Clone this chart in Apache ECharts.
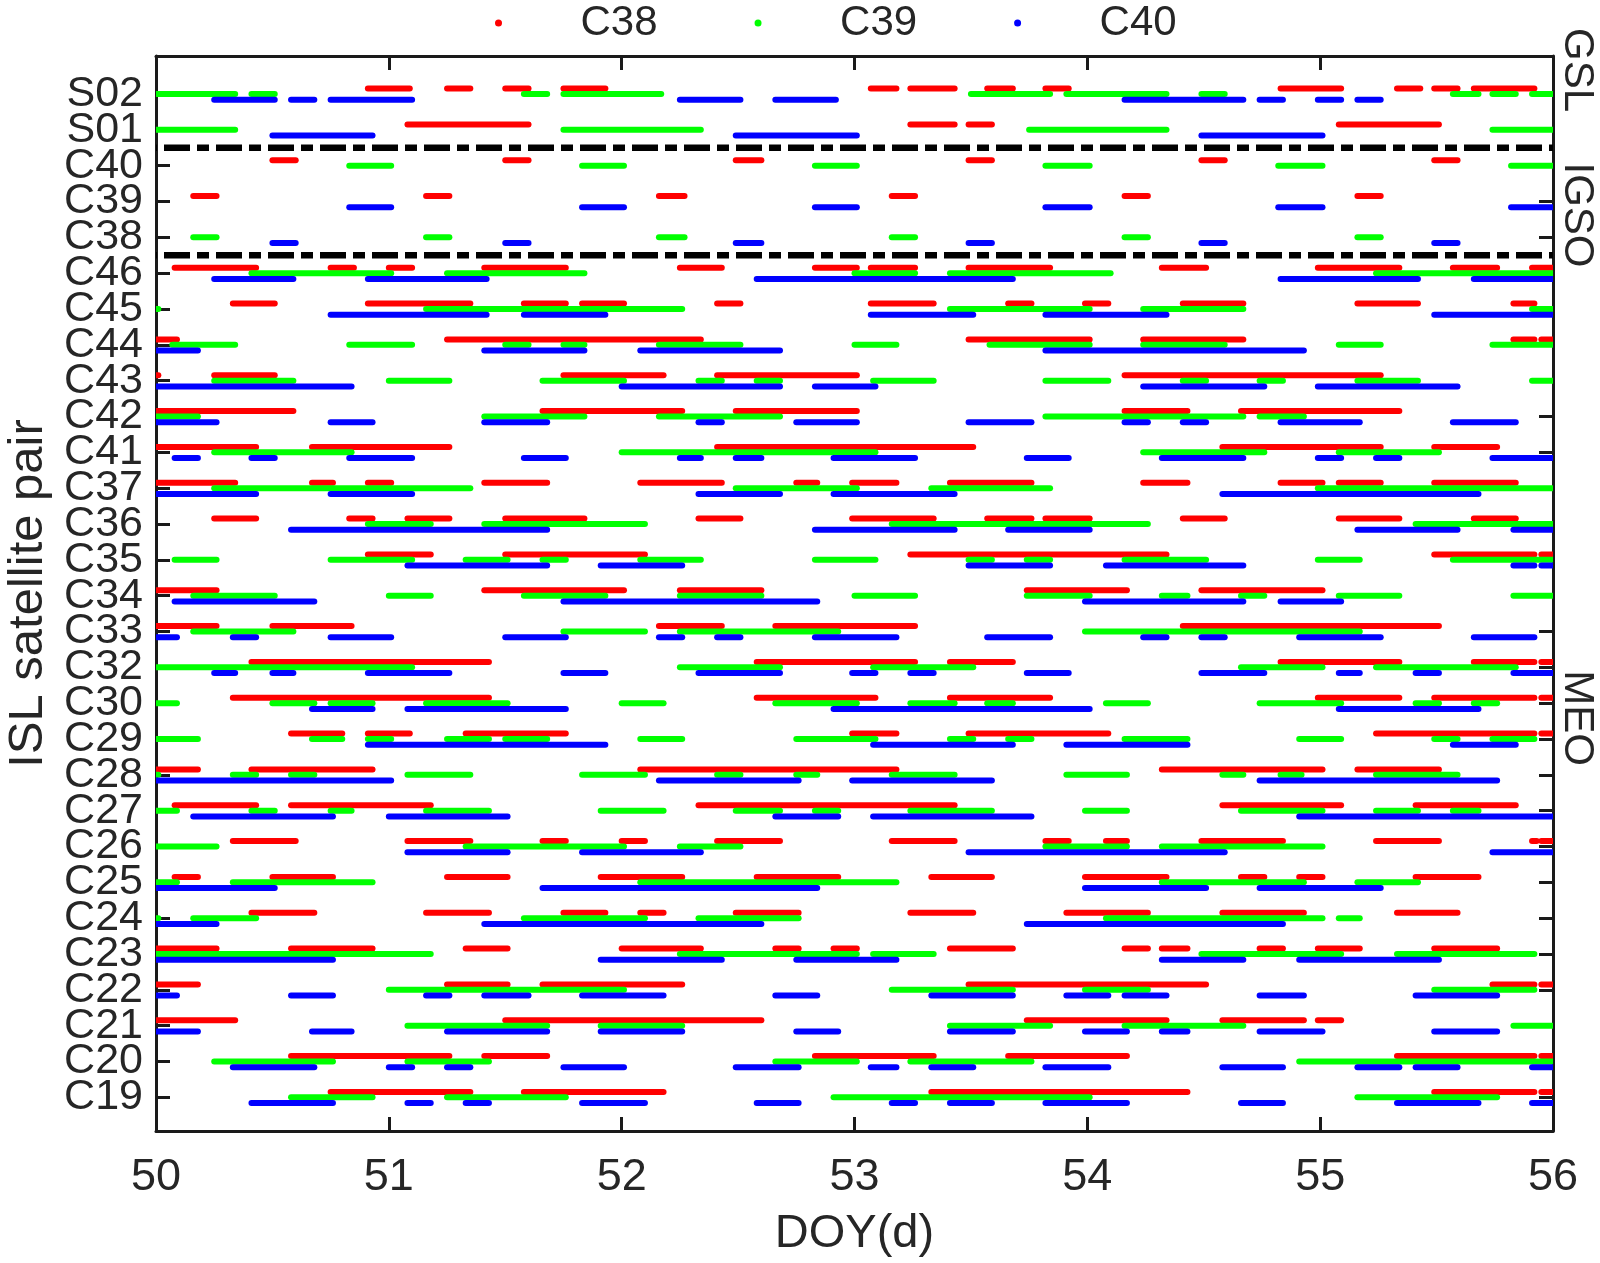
<!DOCTYPE html>
<html>
<head>
<meta charset="utf-8">
<title>ISL link windows</title>
<script src="https://cdn.jsdelivr.net/npm/echarts@6/dist/echarts.min.js"></script>
<style>
  html, body { margin: 0; padding: 0; background: #fff; }
  #chart { width: 1600px; height: 1263px; }
</style>
</head>
<body>
<div id="chart"></div>
<script>
// y rows, bottom to top
const pairs = ['C19', 'C20', 'C21', 'C22', 'C23', 'C24', 'C25', 'C26', 'C27', 'C28', 'C29', 'C30',
  'C32', 'C33', 'C34', 'C35', 'C36', 'C37', 'C41', 'C42', 'C43', 'C44', 'C45', 'C46',
  'C38', 'C39', 'C40', 'S01', 'S02'];
const xTicks = [50, 51, 52, 53, 54, 55, 56];
const yRange = [-0.94, 29.06];
const groupBorders = [23.5, 26.5];

// visible windows [start, end] in DOY, one list per row
const c38Windows = [
  /* C19 */ [[50.75, 51.35], [51.58, 52.18], [53.33, 54.43], [55.49, 55.92], [55.95, 56]],
  /* C20 */ [[50.58, 51.26], [51.41, 51.68], [52.83, 53.34], [53.66, 54.17], [55.33, 55.92], [55.95, 56]],
  /* C21 */ [[50, 50.34], [51.5, 52.6], [53.74, 54.34], [54.58, 54.93], [54.99, 55.09]],
  /* C22 */ [[50, 50.18], [51.25, 51.51], [51.66, 52.26], [53.49, 54.51], [55.74, 55.92], [55.95, 56]],
  /* C23 */ [[50, 50.26], [50.58, 50.93], [51.33, 51.51], [52.0, 52.34], [52.66, 52.76], [52.91, 53.01], [53.41, 53.68], [54.16, 54.26], [54.32, 54.43], [54.74, 54.84], [54.99, 55.17], [55.49, 55.76]],
  /* C24 */ [[50.41, 50.68], [51.16, 51.43], [51.75, 51.93], [52.08, 52.18], [52.49, 52.76], [53.24, 53.51], [53.91, 54.26], [54.58, 54.93], [55.33, 55.59]],
  /* C25 */ [[50.08, 50.18], [50.5, 50.76], [51.25, 51.51], [51.91, 52.26], [52.58, 52.93], [53.33, 53.59], [53.99, 54.34], [54.66, 54.76], [54.91, 55.01], [55.41, 55.68]],
  /* C26 */ [[50.33, 50.6], [51.08, 51.35], [51.66, 51.76], [52.0, 52.1], [52.41, 52.68], [53.16, 53.43], [53.82, 53.92], [54.08, 54.17], [54.49, 54.84], [55.24, 55.51], [55.91, 55.93], [55.95, 56]],
  /* C27 */ [[50.08, 50.43], [50.58, 51.18], [52.33, 53.43], [54.58, 55.09], [55.41, 55.84]],
  /* C28 */ [[50, 50.18], [50.41, 50.93], [52.08, 53.18], [54.32, 55.01], [55.16, 55.51]],
  /* C29 */ [[50.58, 50.8], [50.91, 51.09], [51.33, 51.76], [52.99, 53.18], [53.49, 54.09], [55.24, 55.92], [55.95, 56]],
  /* C30 */ [[50.33, 51.43], [52.58, 53.09], [53.41, 53.84], [54.99, 55.34], [55.49, 55.92], [55.95, 56]],
  /* C32 */ [[50.41, 51.43], [52.58, 53.26], [53.41, 53.68], [54.83, 55.34], [55.66, 55.92], [55.95, 56]],
  /* C33 */ [[50, 50.26], [50.5, 50.84], [52.16, 52.43], [52.66, 53.26], [54.41, 55.51]],
  /* C34 */ [[50, 50.26], [51.41, 52.01], [52.25, 52.6], [53.74, 54.17], [54.49, 55.01]],
  /* C35 */ [[50.91, 51.18], [51.5, 52.1], [53.24, 54.34], [55.49, 55.92], [55.95, 56]],
  /* C36 */ [[50.25, 50.43], [50.83, 50.93], [51.08, 51.26], [51.5, 51.84], [52.33, 52.51], [52.99, 53.34], [53.57, 53.76], [53.82, 54.01], [54.41, 54.59], [55.08, 55.34], [55.66, 55.84]],
  /* C37 */ [[50, 50.34], [50.67, 50.76], [50.91, 51.01], [51.41, 51.68], [52.08, 52.43], [52.75, 52.84], [52.99, 53.18], [53.41, 53.76], [54.24, 54.43], [54.83, 55.01], [55.08, 55.26], [55.49, 55.84]],
  /* C41 */ [[50, 50.43], [50.67, 51.26], [52.41, 53.51], [54.58, 55.26], [55.49, 55.76]],
  /* C42 */ [[50, 50.59], [51.66, 52.26], [52.49, 53.01], [54.16, 54.43], [54.66, 55.34]],
  /* C43 */ [[50, 50.01], [50.25, 50.51], [51.75, 52.18], [52.41, 53.01], [54.16, 55.26]],
  /* C44 */ [[50, 50.09], [51.25, 52.34], [53.49, 54.01], [54.24, 54.67], [55.83, 55.92], [55.95, 56]],
  /* C45 */ [[50.33, 50.51], [50.91, 51.35], [51.58, 51.76], [51.83, 52.01], [52.41, 52.51], [53.07, 53.34], [53.66, 53.76], [53.99, 54.09], [54.41, 54.67], [55.16, 55.42], [55.83, 55.92]],
  /* C46 */ [[50.08, 50.43], [50.75, 50.85], [51.0, 51.1], [51.41, 51.76], [52.25, 52.43], [52.83, 53.01], [53.07, 53.26], [53.49, 53.84], [54.32, 54.51], [54.99, 55.34], [55.57, 55.76], [55.91, 56]],
  /* C38 */ [],
  /* C39 */ [[50.16, 50.26], [51.16, 51.26], [52.16, 52.27], [53.16, 53.26], [54.16, 54.26], [55.16, 55.26]],
  /* C40 */ [[50.5, 50.6], [51.5, 51.6], [52.49, 52.6], [53.49, 53.59], [54.49, 54.59], [55.49, 55.59]],
  /* S01 */ [[51.08, 51.6], [53.24, 53.43], [53.49, 53.59], [55.08, 55.51]],
  /* S02 */ [[50.91, 51.09], [51.25, 51.35], [51.5, 51.6], [51.75, 51.93], [53.07, 53.18], [53.24, 53.43], [53.57, 53.68], [53.82, 53.92], [54.83, 55.09], [55.33, 55.43], [55.49, 55.59], [55.66, 55.92]]
];

const c39Windows = [
  /* C19 */ [[50.58, 50.93], [51.25, 51.76], [52.91, 54.01], [55.16, 55.76]],
  /* C20 */ [[50.25, 50.76], [51.08, 51.43], [52.66, 53.01], [53.24, 53.76], [54.91, 56]],
  /* C21 */ [[51.08, 51.68], [51.91, 52.26], [53.41, 53.84], [54.16, 54.67], [55.83, 56]],
  /* C22 */ [[51.0, 52.01], [53.16, 53.68], [53.99, 54.26], [55.49, 55.92]],
  /* C23 */ [[50, 51.18], [52.25, 53.01], [53.08, 53.34], [54.49, 55.09], [55.33, 55.92]],
  /* C24 */ [[50, 50.01], [50.16, 50.43], [51.58, 52.1], [52.33, 52.76], [54.08, 55.01], [55.08, 55.17]],
  /* C25 */ [[50, 50.09], [50.33, 50.93], [52.08, 53.18], [54.32, 54.93], [55.16, 55.42]],
  /* C26 */ [[50, 50.26], [51.33, 52.01], [52.25, 52.51], [53.82, 54.17], [54.32, 55.01]],
  /* C27 */ [[50, 50.09], [50.41, 50.51], [50.75, 50.84], [51.16, 51.43], [51.91, 52.18], [52.49, 52.68], [52.83, 52.93], [53.24, 53.59], [53.99, 54.17], [54.66, 55.01], [55.24, 55.42], [55.57, 55.68]],
  /* C28 */ [[50, 50.01], [50.33, 50.43], [50.58, 50.68], [51.08, 51.35], [51.83, 52.1], [52.41, 52.51], [52.75, 52.84], [53.16, 53.43], [53.91, 54.17], [54.58, 54.67], [54.83, 54.92], [55.24, 55.59]],
  /* C29 */ [[50, 50.18], [50.67, 50.8], [50.91, 51.01], [51.25, 51.43], [51.5, 51.68], [52.08, 52.26], [52.75, 53.09], [53.41, 53.51], [53.66, 53.76], [54.16, 54.43], [54.91, 55.09], [55.49, 55.59], [55.74, 55.92]],
  /* C30 */ [[50, 50.09], [50.5, 50.68], [50.75, 50.93], [51.16, 51.51], [52.0, 52.18], [52.66, 53.01], [53.24, 53.43], [53.57, 53.68], [54.08, 54.26], [54.74, 55.09], [55.41, 55.51], [55.66, 55.76]],
  /* C32 */ [[50, 51.1], [52.25, 52.68], [53.08, 53.51], [54.66, 55.01], [55.24, 55.84]],
  /* C33 */ [[50.16, 50.59], [51.75, 52.1], [52.25, 52.93], [53.99, 55.17]],
  /* C34 */ [[50.16, 50.51], [51.0, 51.18], [51.58, 51.93], [52.25, 52.6], [53.0, 53.26], [53.74, 54.01], [54.32, 54.43], [54.66, 54.76], [55.08, 55.34], [55.83, 56]],
  /* C35 */ [[50.08, 50.26], [50.75, 51.1], [51.33, 51.51], [51.66, 51.76], [52.08, 52.34], [52.83, 53.09], [53.49, 53.59], [53.74, 53.84], [54.16, 54.51], [54.99, 55.17], [55.57, 56]],
  /* C36 */ [[50.91, 51.18], [51.41, 52.1], [53.16, 54.26], [55.41, 56]],
  /* C37 */ [[50.25, 51.35], [52.49, 53.01], [53.33, 53.84], [54.99, 56]],
  /* C41 */ [[50.25, 50.84], [52.0, 53.09], [54.24, 54.76], [55.08, 55.51]],
  /* C42 */ [[50, 50.18], [51.41, 51.84], [52.16, 52.68], [53.82, 54.67], [54.74, 54.93]],
  /* C43 */ [[50.25, 50.59], [51.0, 51.26], [51.66, 52.01], [52.33, 52.43], [52.58, 52.68], [53.08, 53.34], [53.82, 54.09], [54.41, 54.51], [54.74, 54.84], [55.16, 55.42], [55.91, 56]],
  /* C44 */ [[50.07, 50.34], [50.83, 51.1], [51.5, 51.6], [51.75, 51.84], [52.16, 52.51], [53.0, 53.18], [53.58, 54.01], [54.24, 54.59], [55.08, 55.26], [55.74, 56]],
  /* C45 */ [[50, 50.01], [51.16, 52.26], [53.41, 54.01], [54.24, 54.67], [55.91, 56]],
  /* C46 */ [[50.41, 51.01], [51.25, 51.84], [53.0, 53.26], [53.41, 54.1], [55.24, 56]],
  /* C38 */ [[50.16, 50.26], [51.16, 51.26], [52.16, 52.27], [53.16, 53.26], [54.16, 54.26], [55.16, 55.26]],
  /* C39 */ [],
  /* C40 */ [[50.83, 51.01], [51.83, 52.01], [52.83, 53.01], [53.82, 54.01], [54.82, 55.01], [55.82, 56]],
  /* S01 */ [[50, 50.34], [51.75, 52.34], [53.75, 54.34], [55.74, 56]],
  /* S02 */ [[50, 50.34], [50.41, 50.51], [51.58, 51.68], [51.75, 52.17], [53.5, 53.84], [53.91, 54.34], [54.49, 54.59], [55.57, 55.68], [55.74, 55.84], [55.91, 56]]
];

const c40Windows = [
  /* C19 */ [[50.41, 50.76], [51.08, 51.18], [51.33, 51.43], [51.83, 52.1], [52.58, 52.76], [53.16, 53.26], [53.41, 53.59], [53.82, 54.17], [54.66, 54.84], [55.33, 55.68], [55.91, 56]],
  /* C20 */ [[50.33, 50.68], [51.0, 51.1], [51.25, 51.35], [51.75, 52.01], [52.49, 52.76], [53.07, 53.18], [53.33, 53.51], [53.82, 54.09], [54.58, 54.84], [55.16, 55.34], [55.41, 55.59], [55.91, 56]],
  /* C21 */ [[50, 50.18], [50.67, 50.84], [51.25, 51.68], [51.91, 52.26], [52.75, 52.93], [53.41, 53.68], [53.99, 54.17], [54.32, 54.43], [54.74, 55.01], [55.49, 55.76]],
  /* C22 */ [[50, 50.09], [50.58, 50.76], [51.16, 51.26], [51.41, 51.6], [51.83, 52.18], [52.66, 52.84], [53.33, 53.68], [53.91, 54.09], [54.16, 54.34], [54.74, 54.93], [55.41, 55.76]],
  /* C23 */ [[50, 50.76], [51.91, 52.43], [52.75, 53.18], [54.32, 54.67], [54.91, 55.51]],
  /* C24 */ [[50, 50.26], [51.41, 52.6], [53.74, 54.84]],
  /* C25 */ [[50, 50.51], [51.66, 52.84], [53.99, 54.51], [54.74, 55.26]],
  /* C26 */ [[51.08, 51.51], [51.83, 52.34], [53.49, 54.59], [55.74, 56]],
  /* C27 */ [[50.16, 50.76], [51.0, 51.51], [52.66, 52.93], [53.08, 53.76], [54.91, 56]],
  /* C28 */ [[50, 51.01], [52.16, 52.76], [52.99, 53.59], [54.74, 55.76]],
  /* C29 */ [[50.91, 51.93], [53.08, 53.68], [53.91, 54.43], [55.57, 55.84]],
  /* C30 */ [[50.67, 50.93], [51.08, 51.76], [52.91, 54.01], [55.08, 55.68]],
  /* C32 */ [[50.25, 50.34], [50.5, 50.59], [50.91, 51.26], [51.75, 51.93], [52.33, 52.68], [52.99, 53.09], [53.24, 53.34], [53.74, 53.92], [54.49, 54.76], [55.08, 55.17], [55.41, 55.51], [55.83, 56]],
  /* C33 */ [[50, 50.09], [50.33, 50.43], [50.75, 51.01], [51.5, 51.76], [52.16, 52.26], [52.41, 52.51], [52.83, 53.18], [53.57, 53.84], [54.24, 54.34], [54.49, 54.59], [54.91, 55.26], [55.66, 55.92]],
  /* C34 */ [[50.08, 50.68], [51.75, 52.84], [53.99, 54.67], [54.83, 55.09]],
  /* C35 */ [[51.08, 51.68], [51.91, 52.26], [53.49, 53.84], [54.08, 54.67], [55.83, 55.92], [55.95, 56]],
  /* C36 */ [[50.58, 51.68], [52.83, 53.43], [53.66, 54.01], [55.16, 55.59], [55.83, 56]],
  /* C37 */ [[50, 50.43], [50.75, 51.1], [52.33, 52.68], [52.91, 53.43], [54.58, 55.68]],
  /* C41 */ [[50.08, 50.18], [50.41, 50.51], [50.83, 51.1], [51.58, 51.76], [52.25, 52.34], [52.49, 52.6], [52.91, 53.26], [53.74, 53.92], [54.32, 54.67], [54.99, 55.09], [55.24, 55.34], [55.74, 56]],
  /* C42 */ [[50, 50.26], [50.75, 50.93], [51.41, 51.68], [52.33, 52.43], [52.75, 53.01], [53.49, 53.76], [54.16, 54.26], [54.41, 54.51], [54.83, 55.17], [55.57, 55.84]],
  /* C43 */ [[50, 50.84], [52.0, 52.68], [52.83, 53.09], [54.24, 54.76], [54.99, 55.59]],
  /* C44 */ [[50, 50.18], [51.41, 51.84], [52.08, 52.68], [53.82, 54.93]],
  /* C45 */ [[50.75, 51.42], [51.58, 51.93], [53.07, 53.51], [53.82, 54.34], [55.49, 56]],
  /* C46 */ [[50.25, 50.59], [50.91, 51.42], [52.58, 53.68], [54.83, 55.42], [55.66, 56]],
  /* C38 */ [[50.5, 50.6], [51.5, 51.6], [52.49, 52.6], [53.49, 53.59], [54.49, 54.59], [55.49, 55.59]],
  /* C39 */ [[50.83, 51.01], [51.83, 52.01], [52.83, 53.01], [53.82, 54.01], [54.82, 55.01], [55.82, 56]],
  /* C40 */ [],
  /* S01 */ [[50.5, 50.93], [52.49, 53.01], [54.49, 55.01]],
  /* S02 */ [[50.25, 50.51], [50.58, 50.68], [50.75, 51.1], [52.25, 52.51], [52.66, 52.92], [54.16, 54.67], [54.74, 54.84], [54.99, 55.09], [55.16, 55.26]]
];

const chart = echarts.init(document.getElementById('chart'));
const FONT = '"Liberation Sans", Arial, Helvetica, sans-serif';
const TEXT = '#262626';
const AXIS = '#1a1a1a';
// one tick per row, padded with the axis ends so the first and last rows are kept
const rowTicks = [yRange[0]].concat(pairs.map((p, i) => i), [yRange[1]]);

function rowLabel(v) {
  const i = Math.round(v);
  return Math.abs(v - i) < 1e-6 && pairs[i] ? pairs[i] : '';
}

function toItems(windows) {
  const items = [];
  windows.forEach((list, row) => {
    list.forEach(w => items.push([w[0], w[1], row]));
  });
  return items;
}

// each satellite drawn a little above / below the row centre
function windowSeries(name, color, windows, offset) {
  return {
    name: name,
    type: 'custom',
    clip: true,
    itemStyle: { color: color },
    encode: { x: [0, 1], y: 2 },
    data: toItems(windows),
    renderItem: function (params, api) {
      const y = api.value(2) + offset;
      const a = api.coord([api.value(0), y]);
      const b = api.coord([api.value(1), y]);
      return {
        type: 'line',
        shape: { x1: a[0], y1: a[1], x2: b[0], y2: b[1] },
        style: { stroke: color, lineWidth: 6, lineCap: 'round' }
      };
    }
  };
}

const borderSeries = {
  type: 'custom',
  silent: true,
  encode: { y: 0 },
  data: groupBorders.map(v => [v]),
  renderItem: function (params, api) {
    const a = api.coord([xTicks[0], api.value(0)]);
    const b = api.coord([xTicks[xTicks.length - 1], api.value(0)]);
    return {
      type: 'line',
      shape: { x1: a[0], y1: a[1], x2: b[0], y2: b[1] },
      style: { stroke: '#000', lineWidth: 6.5, lineDash: [26, 7, 12, 7], lineDashOffset: 44 }
    };
  }
};

const tickStyle = { inside: true, length: 14, lineStyle: { color: AXIS, width: 3 } };
const lineStyle = { show: true, onZero: false, lineStyle: { color: AXIS, width: 3 } };

chart.setOption({
  animation: false,
  backgroundColor: '#fff',
  textStyle: { fontFamily: FONT },
  grid: { left: 156, right: 47, top: 56, bottom: 132, outerBoundsMode: 'none' },
  legend: {
    left: 490,
    top: -3,
    icon: 'circle',
    itemWidth: 154,
    itemHeight: 7,
    itemGap: 97,
    selectedMode: false,
    data: ['C38', 'C39', 'C40'],
    textStyle: { fontSize: 42, color: TEXT, fontFamily: FONT }
  },
  xAxis: [{
    type: 'value',
    position: 'bottom',
    min: xTicks[0],
    max: xTicks[xTicks.length - 1],
    interval: 1,
    axisLine: lineStyle,
    axisTick: tickStyle,
    splitLine: { show: false },
    axisLabel: { fontSize: 45, color: TEXT, margin: 24, fontFamily: FONT },
    name: 'DOY(d)',
    nameLocation: 'middle',
    nameGap: 80,
    nameTextStyle: { fontSize: 47, color: TEXT, fontFamily: FONT }
  }, {
    type: 'value',
    position: 'top',
    min: xTicks[0],
    max: xTicks[xTicks.length - 1],
    interval: 1,
    axisLine: lineStyle,
    axisTick: tickStyle,
    splitLine: { show: false },
    axisLabel: { show: false }
  }],
  yAxis: [{
    type: 'value',
    position: 'left',
    min: yRange[0],
    max: yRange[1],
    axisLine: lineStyle,
    axisTick: Object.assign({ customValues: rowTicks }, tickStyle),
    splitLine: { show: false },
    axisLabel: {
      customValues: rowTicks,
      showMinLabel: true,
      showMaxLabel: true,
      fontSize: 43, color: TEXT, margin: 13, fontFamily: FONT,
      formatter: rowLabel
    },
    name: 'ISL satellite pair',
    nameLocation: 'middle',
    nameGap: 97,
    nameTextStyle: { fontSize: 49, color: TEXT, fontFamily: FONT }
  }, {
    type: 'value',
    position: 'right',
    min: yRange[0],
    max: yRange[1],
    axisLine: lineStyle,
    axisTick: Object.assign({ customValues: rowTicks }, tickStyle),
    splitLine: { show: false },
    axisLabel: { show: false }
  }],
  graphic: [
    { type: 'text', x: 1577, y: 70, rotation: -Math.PI / 2,
      style: { text: 'GSL', fontSize: 42, fontFamily: FONT, fill: TEXT, align: 'center', verticalAlign: 'middle' } },
    { type: 'text', x: 1577, y: 215, rotation: -Math.PI / 2,
      style: { text: 'IGSO', fontSize: 42, fontFamily: FONT, fill: TEXT, align: 'center', verticalAlign: 'middle' } },
    { type: 'text', x: 1577, y: 718, rotation: -Math.PI / 2,
      style: { text: 'MEO', fontSize: 42, fontFamily: FONT, fill: TEXT, align: 'center', verticalAlign: 'middle' } }
  ],
  series: [
    windowSeries('C38', '#ff0000', c38Windows, 0.15),
    windowSeries('C39', '#00ff00', c39Windows, 0),
    windowSeries('C40', '#0000ff', c40Windows, -0.16),
    borderSeries
  ]
});
</script>
</body>
</html>
